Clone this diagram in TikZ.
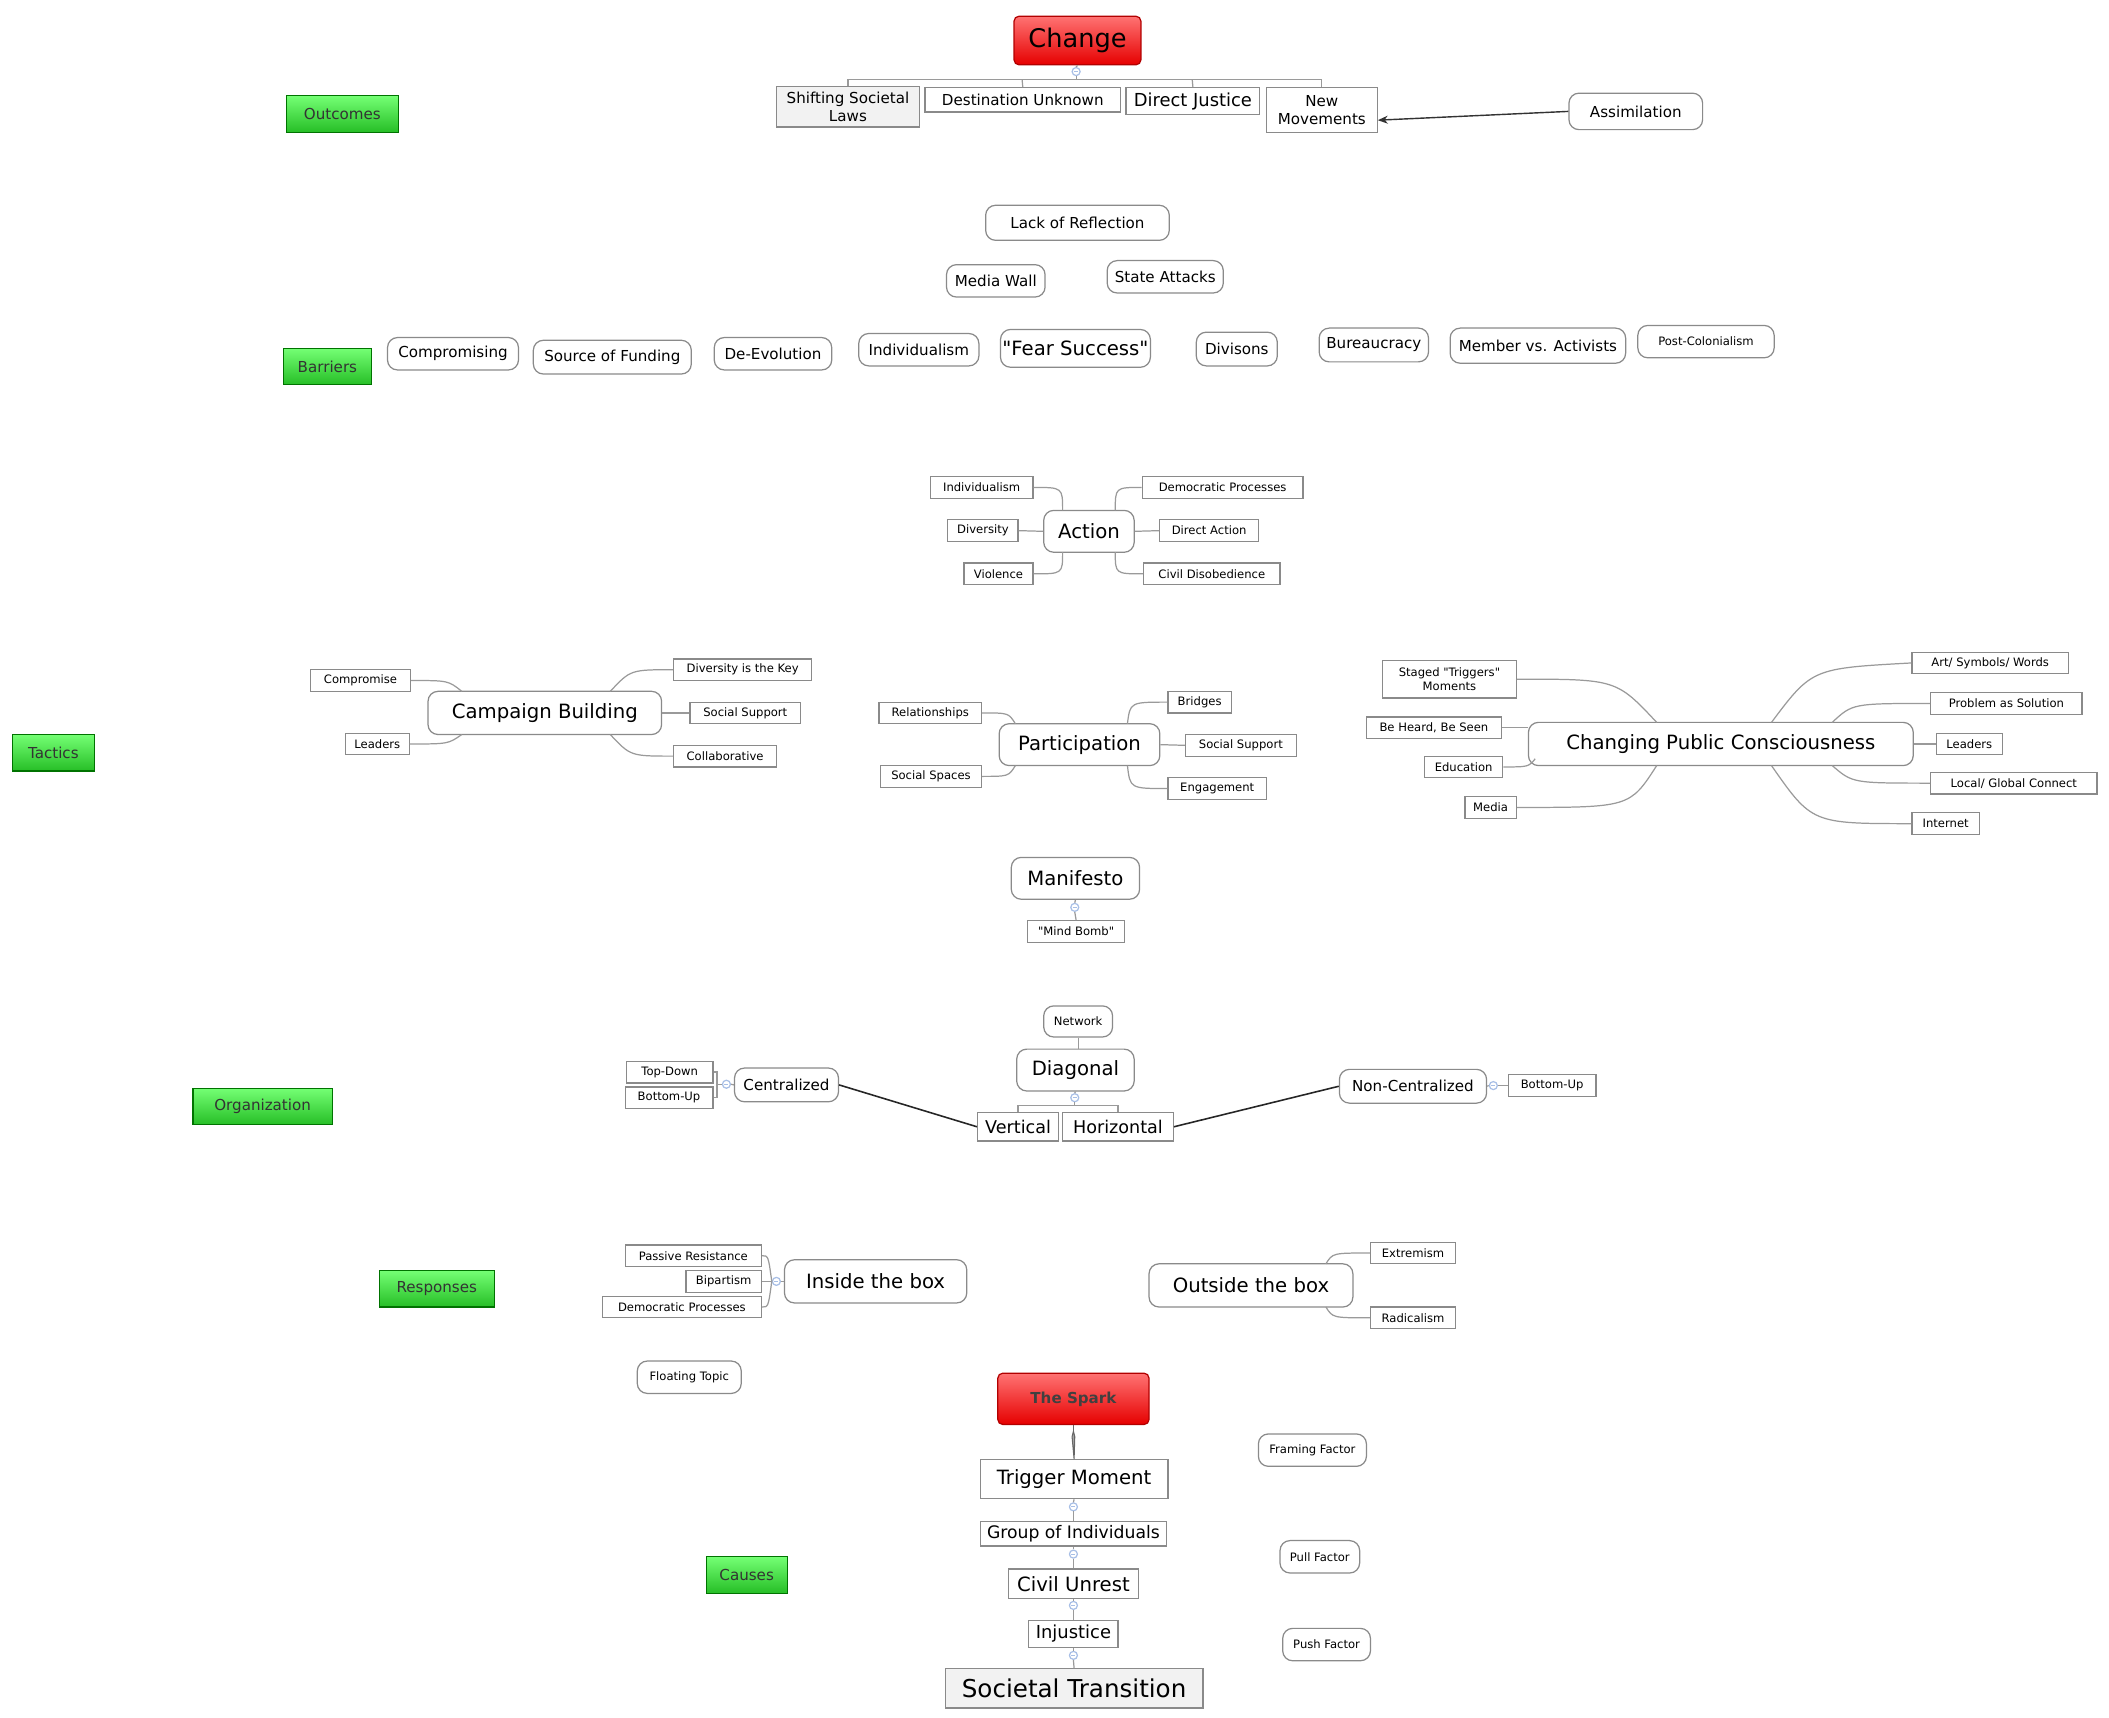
\documentclass[tikz,border=0pt]{standalone}
\usepackage{fontspec}
\setmainfont{DejaVu Sans}
\newfontfamily\qf{DejaVu Sans}
\usetikzlibrary{arrows.meta,calc}
\newcommand\fT{\fontsize{3.3}{4.0}\selectfont}
\newcommand\fS{\fontsize{4.3}{5.1}\selectfont}
\newcommand\fM{\fontsize{5.6}{6.6}\selectfont}
\newcommand\fL{\fontsize{7.3}{8.5}\selectfont}
\newcommand\q{{\qf"}}
\newcommand\bx[7]{\node[#2, minimum width={(#5-#3)*0.0135cm}, minimum height={(#6-#4)*0.0135cm}] (#1) at ({(#3+#5)/2},{(#4+#6)/2}) {#7};}
\definecolor{bord}{HTML}{8A8A8A}
\definecolor{conn}{HTML}{9A9A9A}
\definecolor{mkc}{HTML}{A8BFE6}
\tikzset{
 base/.style={inner sep=0pt, align=center, draw=bord, line width=0.35pt},
 topic/.style={base, rounded corners=1mm, fill=white},
 sub/.style={base, fill=white},
 grayb/.style={base, fill=black!5},
 greenb/.style={base, draw=green!45!black, top color=green!35!white!70!green, bottom color=green!70!black!85, font=\fS\color{black!80}},
 redb/.style={base, draw=red!70!black, top color=red!55!white, bottom color=red!90!black, rounded corners=0.5mm},
 cn/.style={draw=conn, line width=0.35pt},
 mkdot/.style={circle, draw=mkc, line width=0.35pt, inner sep=0pt, minimum size=0.08cm, fill=white},
}
\newcommand\mk[3]{\node[mkdot] (#1) at (#2,#3) {}; \draw[mkc,line width=0.3pt] ($(#1)+(-1.5,0)$) -- ($(#1)+(1.5,0)$);}
\begin{document}
\begin{tikzpicture}[x=0.0135cm,y=-0.0135cm]
\useasboundingbox (3,0) rectangle (1565,1272);
% Outcomes
\bx{outc}{greenb}{215}{71}{298}{98}{Outcomes}
\bx{chg}{redb, font=\fL}{754}{12}{848}{48}{Change}
\bx{ssl}{grayb, font=\fS}{578}{64}{684}{94}{Shifting Societal\\Laws}
\bx{du}{sub, font=\fS}{688}{65}{833}{83}{Destination Unknown}
\bx{dj}{sub, font=\fS}{837}{65}{936}{85}{\fontsize{5.1}{6}\selectfont Direct Justice}
\bx{nm}{sub, font=\fS}{941}{65}{1023}{98}{New\\Movements}
\bx{asm}{topic, font=\fS}{1165}{69}{1264}{96}{Assimilation}
\mk{m1}{800}{53}
\draw[cn] (chg.south) -- (m1.north);
\draw[cn] (m1.south) -- (800,59);
\draw[cn] (ssl.north) |- (982,59) -- (nm.north);
\draw[cn] (du.north) -- (760,59);
\draw[cn] (dj.north) -- (886,59);
\draw[black!80, line width=0.4pt, -{Stealth[length=1mm,width=0.8mm]}] (asm.west) -- (nm.east|-0,89);
% Barriers
\bx{lor}{topic, font=\fS}{733}{152}{869}{178}{Lack of Reflection}
\bx{mw}{topic, font=\fS}{704}{196}{777}{220}{Media Wall}
\bx{sa}{topic, font=\fS}{823}{193}{909}{217}{State Attacks}
\bx{barr}{greenb}{213}{258}{278}{285}{Barriers}
\bx{b1}{topic, font=\fS}{290}{250}{387}{274}{Compromising}
\bx{b2}{topic, font=\fS}{398}{252}{515}{277}{Source of Funding}
\bx{b3}{topic, font=\fS}{532}{250}{619}{274}{De-Evolution}
\bx{b4}{topic, font=\fS}{639}{247}{728}{271}{Individualism}
\bx{b5}{topic, font=\fM}{744}{244}{855}{272}{\q Fear Success\q}
\bx{b6}{topic, font=\fS}{889}{246}{949}{271}{Divisons}
\bx{b7}{topic, font=\fS}{980}{243}{1061}{268}{Bureaucracy}
\bx{b8}{topic, font=\fS}{1077}{243}{1207}{269}{Member vs. Activists}
\bx{b9}{topic, font=\fT}{1216}{241}{1317}{265}{Post-Colonialism}
% Action
\bx{act}{topic, font=\fM}{776}{378}{843}{409}{Action}
\bx{a1}{sub, font=\fT}{692}{353}{768}{369}{Individualism}
\bx{a2}{sub, font=\fT}{705}{385}{757}{401}{Diversity}
\bx{a3}{sub, font=\fT}{717}{417}{768}{433}{Violence}
\bx{a4}{sub, font=\fT}{849}{353}{968}{369}{Democratic Processes}
\bx{a5}{sub, font=\fT}{862}{385}{935}{401}{Direct Action}
\bx{a6}{sub, font=\fT}{850}{417}{951}{433}{Civil Disobedience}
\draw[cn] (790,378) .. controls (790,361) .. (a1.east);
\draw[cn] (act.west) -- (a2.east);
\draw[cn] (790,409) .. controls (790,425) .. (a3.east);
\draw[cn] (829,378) .. controls (829,361) .. (a4.west);
\draw[cn] (act.east) -- (a5.west);
\draw[cn] (829,409) .. controls (829,425) .. (a6.west);
% Tactics
\bx{tac}{greenb}{12}{544}{73}{571}{Tactics}
\bx{cb}{topic, font=\fM}{320}{512}{493}{544}{Campaign Building}
\bx{c1}{sub, font=\fT}{233}{496}{307}{512}{Compromise}
\bx{c2}{sub, font=\fT}{259}{543}{306}{559}{Leaders}
\bx{c3}{sub, font=\fT}{502}{488}{604}{504}{Diversity is the Key}
\bx{c4}{sub, font=\fT}{514}{520}{596}{536}{Social Support}
\bx{c5}{sub, font=\fT}{502}{552}{578}{568}{Collaborative}
\draw[cn] (c1.east) .. controls (335,504) .. (345,512);
\draw[cn] (c2.east) .. controls (335,551) .. (345,544);
\draw[cn] (455,512) .. controls (470,496) .. (c3.west);
\draw[cn] (cb.east) -- (c4.west);
\draw[cn] (455,544) .. controls (470,560) .. (c5.west);
\bx{par}{topic, font=\fM}{743}{536}{862}{567}{Participation}
\bx{p1}{sub, font=\fT}{654}{520}{730}{536}{Relationships}
\bx{p2}{sub, font=\fT}{655}{567}{730}{583}{Social Spaces}
\bx{p3}{sub, font=\fT}{868}{512}{915}{528}{Bridges}
\bx{p4}{sub, font=\fT}{881}{544}{963}{560}{Social Support}
\bx{p5}{sub, font=\fT}{868}{576}{941}{592}{Engagement}
\draw[cn] (p1.east) .. controls (750,528) .. (755,536);
\draw[cn] (p2.east) .. controls (750,575) .. (755,567);
\draw[cn] (838,536) .. controls (840,520) .. (p3.west);
\draw[cn] (par.east) -- (p4.west);
\draw[cn] (838,567) .. controls (840,584) .. (p5.west);
\bx{cpc}{topic, font=\fM}{1135}{535}{1420}{567}{Changing Public Consciousness}
\bx{q1}{sub, font=\fT}{1027}{489}{1126}{517}{Staged \q Triggers\q\\Moments}
\bx{q2}{sub, font=\fT}{1015}{531}{1115}{547}{Be Heard, Be Seen}
\bx{q3}{sub, font=\fT}{1058}{560}{1116}{576}{Education}
\bx{q4}{sub, font=\fT}{1088}{590}{1126}{606}{Media}
\bx{q5}{sub, font=\fT}{1419}{483}{1535}{499}{Art/ Symbols/ Words}
\bx{q6}{sub, font=\fT}{1433}{513}{1545}{529}{Problem as Solution}
\bx{q7}{sub, font=\fT}{1437}{543}{1486}{559}{Leaders}
\bx{q8}{sub, font=\fT}{1433}{572}{1556}{588}{Local/ Global Connect}
\bx{q9}{sub, font=\fT}{1419}{602}{1469}{618}{Internet}
\draw[cn] (q1.east) .. controls (1200,503) .. (1230,535);
\draw[cn] (q2.east) -- (cpc.west|-q2.east) ;
\draw[cn] (q3.east) .. controls (1135,568) .. (1140,562);
\draw[cn] (q4.east) .. controls (1210,598) .. (1230,567);
\draw[cn] (1315,535) .. controls (1345,495) .. (q5.west);
\draw[cn] (1360,535) .. controls (1375,521) .. (q6.west);
\draw[cn] (cpc.east) -- (q7.west);
\draw[cn] (1360,567) .. controls (1375,580) .. (q8.west);
\draw[cn] (1315,567) .. controls (1345,610) .. (q9.west);
% Manifesto
\bx{man}{topic, font=\fM}{752}{635}{847}{666}{Manifesto}
\mk{m2}{799}{672}
\bx{mb}{sub, font=\fT}{764}{682}{836}{698}{\q Mind Bomb\q}
\draw[cn] (man.south) -- (m2.north);
\draw[cn] (m2.south) -- (mb.north);
% Organization
\bx{org}{greenb}{146}{806}{249}{833}{Organization}
\bx{net}{topic, font=\fT}{776}{745}{827}{768}{Network}
\bx{dia}{topic, font=\fM}{756}{777}{843}{808}{Diagonal}
\draw[cn] (net.south) -- (dia.north-|net.south);
\mk{m3}{799}{813}
\bx{ver}{sub, font=\fontsize{5}{6}\selectfont}{727}{824}{787}{845}{Vertical}
\bx{hor}{sub, font=\fontsize{5}{6}\selectfont}{790}{824}{872}{845}{Horizontal}
\draw[cn] (dia.south) -- (m3.north);
\draw[cn] (m3.south) -- (799,819);
\draw[cn] (ver.north) |- (hor.north|-0,819) -- (hor.north);
\bx{cen}{topic, font=\fS}{547}{791}{624}{816}{Centralized}
\mk{m4}{541}{803}
\bx{td}{sub, font=\fT}{467}{786}{531}{802}{Top-Down}
\bx{bu}{sub, font=\fT}{466}{805}{531}{821}{Bottom-Up}
\draw[cn] (cen.west) -- (m4.east);
\draw[cn] (td.east) -- (534,794) -- (534,813) -- (bu.east);
\draw[cn] (534,803) -- (m4.west);
\draw[black!85, line width=0.45pt] (cen.east) -- (ver.west);
\bx{nc}{topic, font=\fS}{995}{792}{1104}{817}{Non-Centralized}
\draw[black!85, line width=0.45pt] (hor.east) -- (nc.west);
\mk{m5}{1109}{804}
\bx{bu2}{sub, font=\fT}{1120}{796}{1185}{812}{Bottom-Up}
\draw[cn] (nc.east) -- (m5.west);
\draw[cn] (m5.east) -- (bu2.west);
% Responses
\bx{resp}{greenb}{284}{941}{369}{968}{Responses}
\bx{inb}{topic, font=\fM}{584}{933}{719}{965}{Inside the box}
\mk{m6}{578}{949}
\bx{r1}{sub, font=\fT}{466}{922}{567}{938}{Passive Resistance}
\bx{r2}{sub, font=\fT}{511}{941}{567}{957}{Bipartism}
\bx{r3}{sub, font=\fT}{449}{960}{567}{976}{Democratic Processes}
\draw[cn] (inb.west) -- (m6.east);
\draw[cn] (r1.east) .. controls (572,930) .. (m6.west);
\draw[cn] (r2.east) -- (m6.west);
\draw[cn] (r3.east) .. controls (572,968) .. (m6.west);
\bx{outb}{topic, font=\fM}{854}{936}{1005}{968}{Outside the box}
\bx{e1}{sub, font=\fT}{1018}{920}{1081}{936}{Extremism}
\bx{e2}{sub, font=\fT}{1018}{968}{1081}{984}{Radicalism}
\draw[cn] (985,936) .. controls (990,928) .. (e1.west);
\draw[cn] (985,968) .. controls (990,976) .. (e2.west);
\bx{ft}{topic, font=\fT}{475}{1008}{552}{1032}{Floating Topic}
% Causes
\bx{spark}{redb, font=\fS\bfseries\color{black!75}}{742}{1017}{854}{1055}{The Spark}
\bx{tm}{sub, font=\fM}{729}{1081}{868}{1110}{Trigger Moment}
\draw[black!60, line width=0.3pt, fill=black!35] (tm.north) -- (797,1064) -- (798,1060) -- (799,1064) -- cycle;
\draw[black!60, line width=0.3pt] (798,1060) -- (spark.south);
\mk{m7}{798}{1116}
\bx{goi}{sub, font=\fontsize{4.9}{6}\selectfont}{729}{1127}{867}{1145}{Group of Individuals}
\mk{m8}{798}{1151}
\bx{cu}{sub, font=\fM}{750}{1162}{846}{1184}{Civil Unrest}
\mk{m9}{798}{1189}
\bx{inj}{sub, font=\fontsize{5.1}{6}\selectfont}{765}{1200}{831}{1220}{Injustice}
\mk{m10}{798}{1226}
\bx{st}{grayb, font=\fontsize{7}{8.5}\selectfont}{703}{1236}{894}{1265}{Societal Transition}
\draw[cn] (tm.south) -- (m7.north); \draw[cn] (m7.south) -- (goi.north);
\draw[cn] (goi.south) -- (m8.north); \draw[cn] (m8.south) -- (cu.north);
\draw[cn] (cu.south) -- (m9.north); \draw[cn] (m9.south) -- (inj.north);
\draw[cn] (inj.south) -- (m10.north); \draw[cn] (m10.south) -- (st.north);
\bx{causes}{greenb}{526}{1153}{586}{1180}{Causes}
\bx{ff}{topic, font=\fT}{935}{1062}{1015}{1086}{Framing Factor}
\bx{pf}{topic, font=\fT}{951}{1141}{1010}{1165}{Pull Factor}
\bx{psf}{topic, font=\fT}{953}{1206}{1018}{1230}{Push Factor}
\end{tikzpicture}
\end{document}
